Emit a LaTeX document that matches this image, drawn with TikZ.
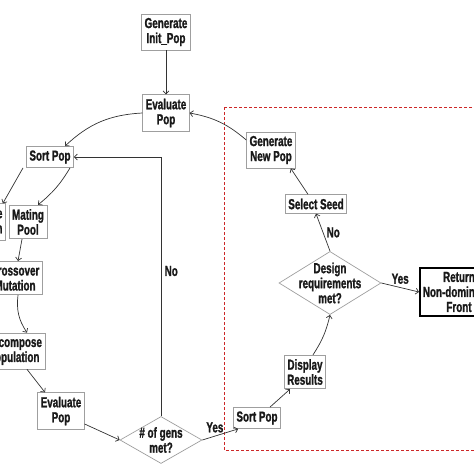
\documentclass[tikz,border=0pt]{standalone}
\usepackage{fontspec}
\setmainfont{Liberation Sans}[FakeStretch=0.68, BoldFeatures={FakeBold=1.2}]
\usepackage{xcolor}
\usepackage{tikz}
\usetikzlibrary{shapes,arrows,positioning,shapes.geometric,calc,arrows.meta}

\definecolor{dashred}{RGB}{205,40,40}

\begin{document}
\begin{tikzpicture}[x=1pt, y=1pt,
        box/.style={draw=gray!75, line width=0.7pt, fill=white, inner xsep=3pt, inner ysep=4pt, align=center, text=black!90, font=\bfseries\fontsize{14.5}{15}\selectfont},
        decision/.style={diamond, draw=gray!75, line width=0.7pt, fill=white, inner sep=-10pt, minimum width=82pt, minimum height=47pt, align=center, text=black!90, font=\bfseries\fontsize{14.5}{15}\selectfont},
        arr/.style={-{Straight Barb[length=3pt,width=6pt]}, draw=black!80, line width=0.7pt},
        lbl/.style={text=black!90, font=\bfseries\fontsize{14.5}{15}\selectfont}]

        \useasboundingbox (0,0) rectangle (474,-474);

        % area of the final loop
        \draw[dashred, dashed, dash pattern=on 3pt off 2pt, line width=1pt] (224,-107) rectangle (490,-450);

        % main loop
        \node[box] (init) at (166,-32) {Generate\\Init\_Pop};
        \node[box] (eval) at (166,-113) {Evaluate\\Pop};
        \node[box] (sort) at (50,-157) {Sort Pop};
        \node[box, align=right] (elite) at (-23,-222) {Elite\\Population};
        \node[box] (mate) at (28,-222) {Mating\\Pool};
        \node[box] (cross) at (15,-278) {Crossover\\Mutation};
        \node[box] (recomp) at (14,-351) {Recompose\\Population};
        \node[box] (evaltwo) at (61,-411) {Evaluate\\Pop};
        \node[decision] (gens) at (161,-440) {\# of gens\\met?};

        % results
        \node[box] (sorttwo) at (257,-418) {Sort Pop};
        \node[box] (disp) at (305,-372) {Display\\Results};
        \node[decision, minimum width=102pt, minimum height=58pt] (req) at (330,-283) {Design\\requirements\\met?};
        \node[box, draw=black, line width=1.6pt] (ret) at (459,-292) {Return\\Non-dominated\\Front};
        \node[box] (seed) at (316,-204) {Select Seed};
        \node[box] (newpop) at (271,-150) {Generate\\New Pop};

        \draw[arr] (init) -- (eval);
        \draw[arr] (eval.west) to[bend right=20] ([xshift=15pt]sort.north);
        \draw[arr] ([xshift=-27pt]sort.south) -- ([xshift=-3pt]elite.north east);
        \draw[arr] ([xshift=20pt]sort.south) to[bend left=10] ([xshift=10pt]mate.north);
        \draw[arr] ([xshift=-6pt]mate.south) -- ([xshift=3pt]cross.north);
        \draw[arr] ([xshift=3pt]cross.south) to[bend right=20] ([xshift=13pt]recomp.north);
        \draw[arr] ([xshift=13pt]recomp.south) -- ([xshift=-16pt]evaltwo.north);
        \draw[arr] ([yshift=-13pt]evaltwo.east) -- (gens.west);
        \draw[arr] (gens.north) |- (sort.east) node[lbl, pos=0.28, right] {No};
        \draw[arr] (gens.east) -- ([xshift=5pt]sorttwo.south west) node[lbl, pos=0.35, above] {Yes};
        \draw[arr] ([xshift=13pt]sorttwo.north) -- ([xshift=-15pt]disp.south);
        \draw[arr] ([xshift=8pt]disp.north) to[bend right=10] (req.south);
        \draw[arr] (req.east) -- (ret.west) node[lbl, midway, above] {Yes};
        \draw[arr] (req.north) -- (seed.south) node[lbl, midway, right] {No};
        \draw[arr] ([xshift=-8pt]seed.north) -- ([xshift=-5pt]newpop.south east);
        \draw[arr] ([yshift=10pt]newpop.west) to[bend right=15] (eval.east);
\end{tikzpicture}
\end{document}
